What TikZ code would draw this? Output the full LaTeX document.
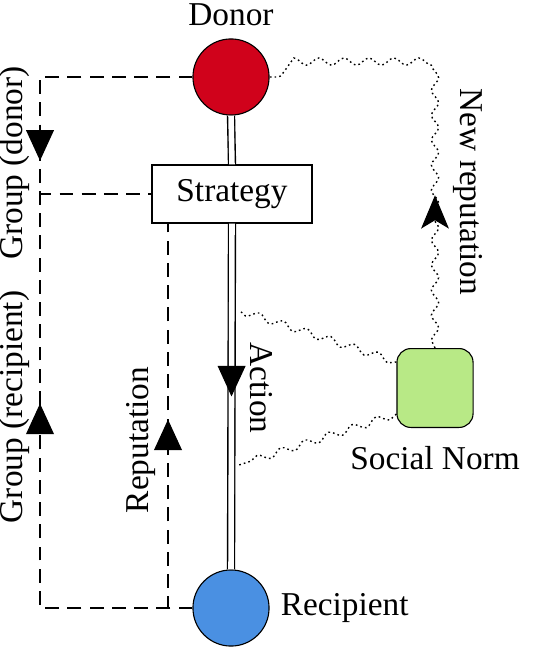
\documentclass[tikz,border=0pt]{standalone}
\usepackage{fontspec}
\setmainfont{Liberation Serif}
\usetikzlibrary{arrows.meta,decorations.pathmorphing,decorations.markings}

\definecolor{donorred}{HTML}{D0021B}
\definecolor{recipblue}{HTML}{4A90E2}
\definecolor{normgreen}{HTML}{B8E986}

\begin{document}
\begin{tikzpicture}[x=0.36pt,y=-0.36pt,font=\fontsize{12}{14}\selectfont,
  agent/.style={circle,draw=black,minimum size=27.4pt,inner sep=0pt},
  stratbox/.style={draw=black,minimum width=57.6pt,minimum height=20.9pt},
  normbox/.style={draw=black,rounded corners=5pt,fill=normgreen,minimum width=27.4pt,minimum height=28.4pt},
  grp/.style={dash pattern=on 5pt off 3pt},
  wavy/.style={line width=0.5pt,dash pattern=on 0.6pt off 1.1pt,decorate,decoration={snake,amplitude=1.3pt,segment length=9pt}},
  midtri/.style={postaction={decorate,decoration={markings,
      mark=at position #1 with {\arrow{Triangle[length=11pt,width=10pt]}}}}},
  midstealth/.style={decorate,decoration={markings,
      mark=at position #1 with {\arrow{Stealth[length=12pt,width=10pt,inset=3pt]}}}}]
\useasboundingbox (0,0) rectangle (534,653);

% agents, strategy and norm
\node [agent,fill=donorred,label={[label distance=1pt]above:Donor}] (donor) at (231,77) {};
\node [stratbox] (strategy) at (232,194) {Strategy};
\node [agent,fill=recipblue,label={[label distance=0.5pt]right:Recipient}] (recipient) at (231,608) {};
\node [normbox,label={[label distance=3pt]below:Social Norm}] (norm) at (435,388) {};

% action line
\draw [line width=0.5pt,double,double distance=2pt] (donor.south) -- (strategy.north);
\draw [line width=0.5pt,double,double distance=2pt] (strategy.south) -- (recipient.north);
\path [decorate,decoration={markings,mark=at position 0.5 with {\arrow{Triangle[length=11pt,width=10pt]}}}] (strategy.south) -- (recipient.north);
\coordinate (acttop) at (239,310);
\coordinate (actbot) at (239,465);

% group and reputation info
\coordinate (lefttop) at (40,77);
\coordinate (leftmid) at (40,194);
\coordinate (leftbot) at (40,608);
\coordinate (repbot) at (168,608);
\coordinate (reptop) at (168,223);
\draw [grp,midtri=0.62] (donor.west) -- (lefttop) -- (leftmid) -- (strategy.west);
\draw [grp,midtri=0.63] (recipient.west) -- (leftbot) -- (leftmid);
\draw [grp,midtri=0.52] (recipient.west) -- (repbot) -- (reptop);

% social norm links
\coordinate (normcorner) at (norm.north |- donor.east);
\draw [wavy] (norm.north) -- (normcorner) -- (donor.east);
\path [midstealth=0.35] (norm.north) -- (normcorner) -- (donor.east);
\draw [wavy] (norm.146) -- (acttop);
\draw [wavy] (norm.214) -- (actbot);

% labels
\node [rotate=90] (grpdonor) at (14,163) {Group (donor)};
\node [rotate=90] (grprecip) at (14,407) {Group (recipient)};
\node [rotate=90] (reputation) at (141,440) {Reputation};
\node [rotate=-90] (action) at (261,388) {Action};
\node [rotate=-90] (newrep) at (468,192) {New reputation};
\end{tikzpicture}
\end{document}
